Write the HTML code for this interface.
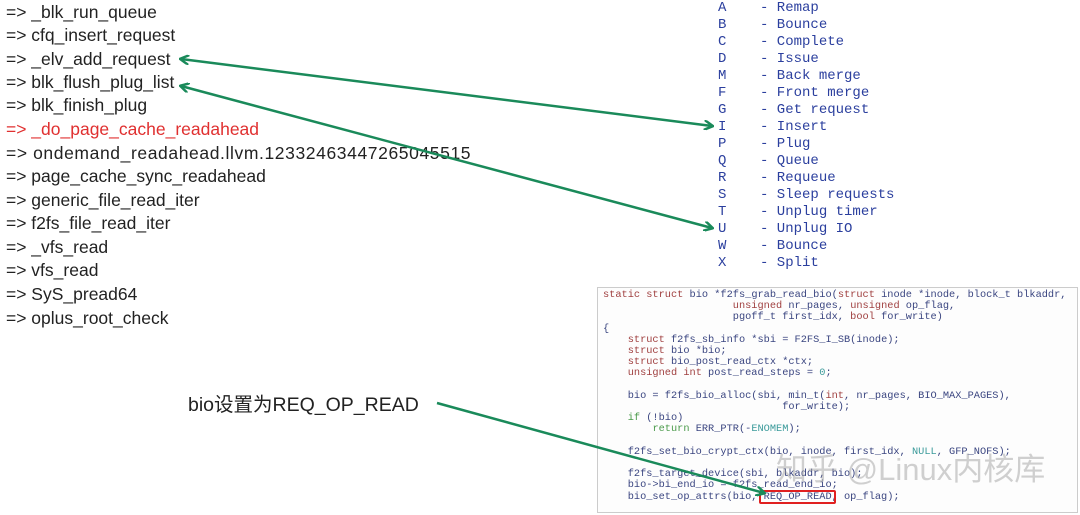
<!DOCTYPE html>
<html><head><meta charset="utf-8"><style>
body{margin:0;width:1080px;height:515px;background:#fff;position:relative;overflow:hidden;font-family:"Liberation Sans","Noto Sans CJK SC",sans-serif}
.l{position:absolute;left:6px;font-size:17.5px;color:#222;white-space:pre;line-height:20px}
.r{position:absolute;left:718px;font-family:"Liberation Mono",monospace;font-size:14px;color:#2b3f9e;white-space:pre;line-height:17px}
.box{position:absolute;left:597px;top:287px;width:481px;height:226px;border:1px solid #ccc;box-sizing:border-box;background:#fdfdfd}
.c{position:absolute;left:603px;font-family:"Liberation Mono",monospace;font-size:10.3px;color:#3a4580;white-space:pre;line-height:11.2px}
.k{color:#a04040}.g{color:#4a9a4a}.t{color:#3a9a9a}
</style></head><body>
<div class="l" style="top:2px">=&gt; _blk_run_queue</div>
<div class="l" style="top:25px">=&gt; cfq_insert_request</div>
<div class="l" style="top:49px">=&gt; _elv_add_request</div>
<div class="l" style="top:72px">=&gt; blk_flush_plug_list</div>
<div class="l" style="top:95px">=&gt; blk_finish_plug</div>
<div class="l" style="top:119px;color:#e03030">=&gt; _do_page_cache_readahead</div>
<div class="l" style="top:143px;letter-spacing:0.6px">=&gt; ondemand_readahead.llvm.12332463447265045515</div>
<div class="l" style="top:166px">=&gt; page_cache_sync_readahead</div>
<div class="l" style="top:190px">=&gt; generic_file_read_iter</div>
<div class="l" style="top:213px">=&gt; f2fs_file_read_iter</div>
<div class="l" style="top:237px">=&gt; _vfs_read</div>
<div class="l" style="top:260px">=&gt; vfs_read</div>
<div class="l" style="top:284px">=&gt; SyS_pread64</div>
<div class="l" style="top:308px">=&gt; oplus_root_check</div>

<div class="r" style="top:0px">A    - Remap
B    - Bounce
C    - Complete
D    - Issue
M    - Back merge
F    - Front merge
G    - Get request
I    - Insert
P    - Plug
Q    - Queue
R    - Requeue
S    - Sleep requests
T    - Unplug timer
U    - Unplug IO
W    - Bounce
X    - Split</div>

<div class="box"></div>
<div class="c" style="top:290px"><span class="k">static struct</span> bio *f2fs_grab_read_bio(<span class="k">struct</span> inode *inode, block_t blkaddr,
                     <span class="k">unsigned</span> nr_pages, <span class="k">unsigned</span> op_flag,
                     pgoff_t first_idx, <span class="k">bool</span> for_write)
{
    <span class="k">struct</span> f2fs_sb_info *sbi = F2FS_I_SB(inode);
    <span class="k">struct</span> bio *bio;
    <span class="k">struct</span> bio_post_read_ctx *ctx;
    <span class="k">unsigned int</span> post_read_steps = <span class="t">0</span>;

    bio = f2fs_bio_alloc(sbi, min_t(<span class="k">int</span>, nr_pages, BIO_MAX_PAGES),
                             for_write);
    <span class="g">if</span> (!bio)
        <span class="g">return</span> ERR_PTR(-<span class="t">ENOMEM</span>);

    f2fs_set_bio_crypt_ctx(bio, inode, first_idx, <span class="t">NULL</span>, GFP_NOFS);

    f2fs_target_device(sbi, blkaddr, bio);
    bio-&gt;bi_end_io = f2fs_read_end_io;
    bio_set_op_attrs(bio, REQ_OP_READ, op_flag);</div>
<div style="position:absolute;left:759px;top:490px;width:77px;height:14px;border:2px solid #e02020;border-radius:2px;box-sizing:border-box"></div>
<div style="position:absolute;left:776px;top:444px;font-size:31px;color:rgba(150,150,150,0.45);font-family:'Liberation Sans','Noto Sans CJK SC',sans-serif;white-space:pre">知乎 @Linux内核库</div>

<div style="position:absolute;left:188px;top:388px;font-size:19.5px;color:#222;white-space:pre">bio设置为REQ_OP_READ</div>

<svg width="1080" height="515" style="position:absolute;left:0;top:0">
<defs><marker id="a" markerWidth="10" markerHeight="10" refX="8" refY="5" orient="auto-start-reverse" markerUnits="userSpaceOnUse"><path d="M0,0 L9,5 L0,10" fill="none" stroke="#1a8a5a" stroke-width="2.5"/></marker></defs>
<g stroke="#1a8a5a" stroke-width="2.5" fill="none">
<line x1="181" y1="59" x2="712" y2="126" marker-start="url(#a)" marker-end="url(#a)"/>
<line x1="181" y1="86" x2="712" y2="228" marker-start="url(#a)" marker-end="url(#a)"/>
<line x1="437" y1="403" x2="764" y2="493" marker-end="url(#a)"/>
</g></svg>
</body></html>
